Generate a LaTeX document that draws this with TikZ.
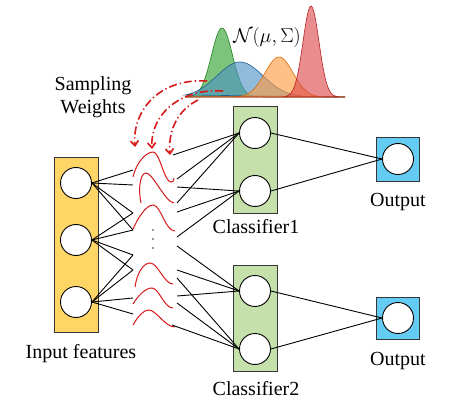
\documentclass[tikz,border=0pt]{standalone}
\usepackage{fix-cm}
\usepackage{fontspec}
\setmainfont{Liberation Serif}
\usetikzlibrary{arrows.meta}
\definecolor{inyellow}{RGB}{255,214,102}
\definecolor{clgreen}{RGB}{197,224,170}
\definecolor{outblue}{RGB}{100,204,242}
\definecolor{wred}{RGB}{215,25,25}
\definecolor{boxline}{RGB}{55,55,55}
\definecolor{gG}{RGB}{44,160,44}
\definecolor{gB}{RGB}{31,119,180}
\definecolor{gO}{RGB}{255,127,14}
\definecolor{gR}{RGB}{214,39,40}
\begin{document}
\begin{tikzpicture}[x=1pt,y=-1pt,
  layerbox/.style={draw=boxline,line width=0.9pt,minimum width=44pt,inner sep=0pt},
  neuron/.style={circle,draw=black,fill=white,line width=0.9pt,minimum size=31pt,inner sep=0pt},
  wire/.style={black,line width=0.9pt},
  wave/.style={wred,line width=1pt},
  sampler/.style={wred,line width=1.6pt,dash pattern=on 8pt off 3pt on 1.3pt off 3pt,-{Straight Barb[length=5pt,width=8pt]}},
  lbl/.style={font=\fontsize{20}{23}\selectfont,inner sep=0pt,align=center},
  gauss/.style={line width=0.6pt,fill opacity=0.62}]
\useasboundingbox (0,0) rectangle (474,409);

% Gaussians
\filldraw[gauss,draw=gG!80!black,fill=gG] plot[domain=185:345,samples=120] (\x,{97-69*exp(-((\x-222)/10.5)^2/2)}) -- cycle;
\filldraw[gauss,draw=gB!80!black,fill=gB!80] plot[domain=185:345,samples=120] (\x,{97-35*exp(-((\x-240)/23)^2/2)}) -- cycle;
\filldraw[gauss,draw=gO!85!black,fill=gO!80] plot[domain=185:345,samples=120] (\x,{97-40*exp(-((\x-279)/14)^2/2)}) -- cycle;
\filldraw[gauss,draw=gR!85!black,fill=gR!85] plot[domain=185:345,samples=120] (\x,{97-91*exp(-((\x-311)/8)^2/2)}) -- cycle;
\node[lbl] (nlab) at (267,38) {$\mathcal{N}(\mu,\Sigma)$};

% Boxes
\node[layerbox,fill=inyellow,minimum height=175pt] (inbox) at (76,244.5) {};
\node[layerbox,fill=clgreen,minimum height=107pt] (c1box) at (255,159.5) {};
\node[layerbox,fill=clgreen,minimum height=106pt] (c2box) at (255,318) {};
\node[layerbox,fill=outblue,minimum width=43pt,minimum height=44pt] (o1box) at (397.5,159) {};
\node[layerbox,fill=outblue,minimum width=43pt,minimum height=42pt] (o2box) at (397.5,318) {};

% Neurons
\node[neuron] (i1) at (76,183) {};
\node[neuron] (i2) at (76,240) {};
\node[neuron] (i3) at (76,302) {};
\node[neuron] (c1a) at (255,133) {};
\node[neuron] (c1b) at (255,191) {};
\node[neuron] (c2a) at (255,291) {};
\node[neuron] (c2b) at (255,349) {};
\node[neuron] (o1) at (398,159) {};
\node[neuron] (o2) at (398,318) {};

% Labels
\node[lbl] (inlab) at (81,354) {Input features};
\node[lbl] (c1lab) at (256,227) {Classifier1};
\node[lbl] (c2lab) at (256,389) {Classifier2};
\node[lbl] (o1lab) at (398,202) {Output};
\node[lbl] (o2lab) at (398,361) {Output};
\node[lbl] (swlab) at (93,97) {Sampling\\Weights};

% sampled weight curves
\draw[wave] (133,177) .. controls (136,163) and (146,152) .. (153,152) .. controls (160,152) and (164,182) .. (171,182) .. controls (173,182) .. (174,178);
\draw[wave] (141,203) .. controls (138,190) and (140,173) .. (146,173) .. controls (153,173) and (165,202) .. (174,203);
\draw[wave] (133,229) .. controls (138,218) and (146,205) .. (153,205) .. controls (161,205) and (165,231) .. (175,231);
\draw[wave] (135,287) .. controls (137,272) and (144,263) .. (150,263) .. controls (158,263) and (164,284) .. (173,284);
\draw[wave] (133,304) .. controls (138,296) and (145,288) .. (152,288) .. controls (159,288) and (164,308) .. (173,308);
\draw[wave] (133,325) .. controls (137,318) and (143,310) .. (149,310) .. controls (156,310) and (165,327) .. (175,327);
\foreach \yy in {230,239,248} \fill[black!80] (153,\yy) circle (0.8pt);

% sampling arrows
\coordinate (s1) at (207,81);  \coordinate (t1) at (135,147);
\coordinate (s2) at (223,91);  \coordinate (t2) at (152,149);
\coordinate (s3) at (198,100); \coordinate (t3) at (170,155);
\draw[sampler] (s1) .. controls (160,78) and (132,110) .. (t1);
\draw[sampler] (s2) .. controls (180,88) and (150,115) .. (t2);
\draw[sampler] (s3) .. controls (178,110) and (168,130) .. (t3);

% left endpoints
\coordinate (l1) at (133,170);
\coordinate (l2) at (133,185);
\coordinate (l3) at (133,213);
\coordinate (l4) at (133,230);
\coordinate (l5) at (133,255);
\coordinate (l6) at (133,270);
\coordinate (l7) at (133,298);
\coordinate (l8) at (133,314);
% right endpoints
\coordinate (r1) at (173,155);
\coordinate (r2) at (177,179);
\coordinate (r3) at (177,187);
\coordinate (r4) at (177,203);
\coordinate (r5) at (177,212);
\coordinate (r6) at (177,237);
\coordinate (r7) at (177,246);
\coordinate (r8) at (177,270);
\coordinate (r9) at (177,278);
\coordinate (r10) at (177,296);
\coordinate (r11) at (177,303);
\coordinate (r12) at (172,325);

\foreach \a/\b in {i1/l1,i1/l2,i1/l3,i1/l4,i2/l3,i2/l4,i2/l5,i2/l6,i3/l5,i3/l6,i3/l7,i3/l8}
  \draw[wire] (\a.east) -- (\b);
\foreach \a/\b in {r1/c1a,r2/c1a,r4/c1a,r3/c1b,r5/c1b,r6/c1b,r7/c2a,r8/c2a,r10/c2a,r9/c2b,r11/c2b,r12/c2b}
  \draw[wire] (\a) -- (\b.west);
\foreach \a/\b in {c1a/o1,c1b/o1,c2a/o2,c2b/o2}
  \draw[wire] (\a.east) -- (\b.west);
\end{tikzpicture}
\end{document}
